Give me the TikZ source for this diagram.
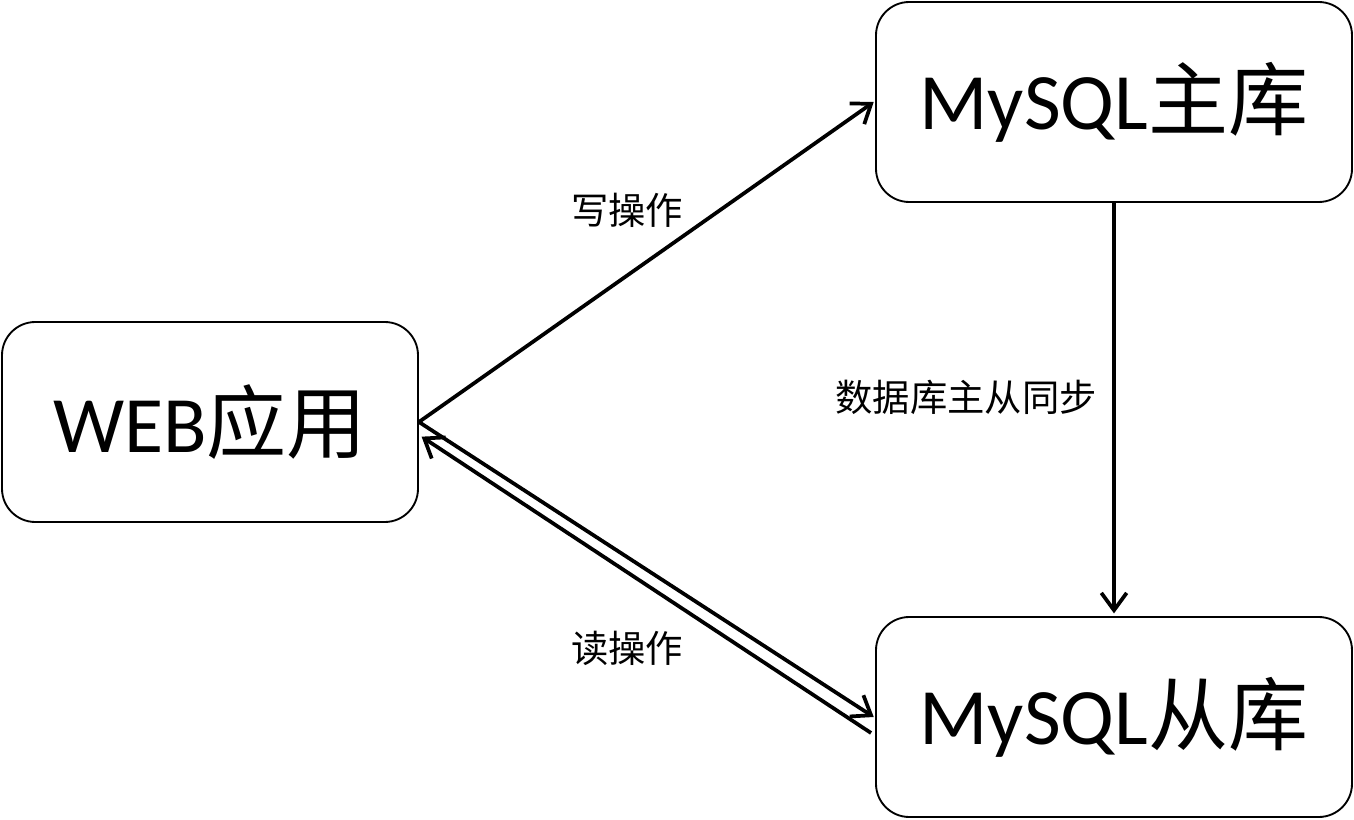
\documentclass[tikz,border=0pt]{standalone}
\usepackage{fontspec}
\setmainfont{Carlito}
\newfontfamily\cjk{Noto Sans CJK SC}
\usetikzlibrary{arrows.meta}
\tikzset{
	dbbox/.style={
		draw,
		line width=1.4pt,
		rounded corners=25pt,
		minimum height=150pt,
		font=\fontsize{60}{72}\selectfont
	},
	lbl/.style={
		font=\fontsize{28}{34}\selectfont\cjk
	}
}

\begin{document}
\begin{tikzpicture}[x=0.75pt, y=-0.75pt, line width=2.8pt, >={Straight Barb[length=13pt, width=19pt]}]
\useasboundingbox (0,0) rectangle (1354,820);
\node[dbbox, minimum width=312pt] (web) at (210,422) {WEB{\cjk 应用}};
\node[dbbox, minimum width=357pt] (master) at (1114,102) {MySQL{\cjk 主库}};
\node[dbbox, minimum width=357pt] (slave) at (1114,717) {MySQL{\cjk 从库}};

\draw[->] (web.east) -- ([xshift=-1pt]master.west);
\draw[->] (web.east) -- ([xshift=-1pt]slave.west);
\draw[->] ([xshift=-3pt, yshift=-12pt]slave.west) -- ([xshift=2pt, yshift=-11pt]web.east);
\draw[->] (master.south) -- ([yshift=2pt]slave.north);

\node[lbl] (write) at (627,210) {写操作};
\node[lbl] (sync) at (966,397) {数据库主从同步};
\node[lbl] (read) at (627,648) {读操作};
\end{tikzpicture}
\end{document}
